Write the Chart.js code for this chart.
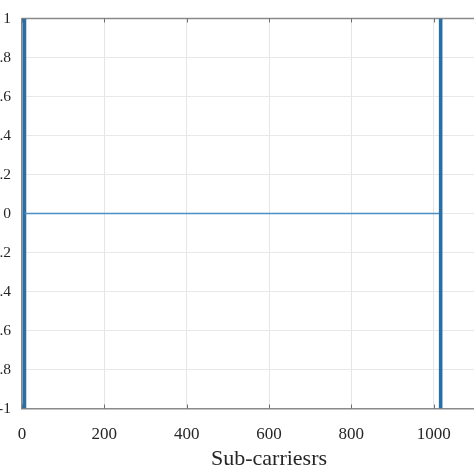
<!DOCTYPE html>
<html>
<head>
<meta charset="utf-8">
<script src="https://cdn.jsdelivr.net/npm/chart.js@4/dist/chart.umd.min.js"></script>
<style>
  html, body { margin: 0; padding: 0; background: #ffffff; overflow: hidden; width: 474px; height: 474px; }
  #wrap { position: absolute; left: -40px; top: 0; width: 580px; height: 474px; }
</style>
</head>
<body>
<div id="wrap"><canvas id="c" width="580" height="474"></canvas></div>
<script>
// Signal trace (sub-carrier index, amplitude)
const subcarrierIdx = [6, 6, 6, 1017, 1017, 1017];
const amplitude     = [-1, 1, 0, 0, 1, -1];
// Axis ticks
const xTickValues = [0, 200, 400, 600, 800, 1000, 1200];
const xTickLabels = ['0', '200', '400', '600', '800', '1000', '1200'];
const yTickValues = [1, 0.8, 0.6, 0.4, 0.2, 0, -0.2, -0.4, -0.6, -0.8, -1];
const yTickLabels = ['1', '0.8', '0.6', '0.4', '0.2', '0', '-0.2', '-0.4', '-0.6', '-0.8', '-1'];
const xTitle = 'Sub-carriesrs';

const points = subcarrierIdx.map((x, i) => ({ x: x, y: amplitude[i] }));

const frame = {
  id: 'frame',
  beforeDatasetsDraw(chart) {
    const { ctx, chartArea: a, scales } = chart;
    ctx.save();
    ctx.strokeStyle = '#8a8a8a';
    ctx.lineWidth = 1.6;
    ctx.beginPath();
    ctx.moveTo(a.left, a.top);
    ctx.lineTo(a.right, a.top);
    ctx.stroke();
    ctx.lineWidth = 1;
    ctx.strokeStyle = '#6e6e6e';
    xTickValues.forEach(v => {
      const px = Math.round(scales.x.getPixelForValue(v)) + 0.5;
      ctx.beginPath();
      ctx.moveTo(px, a.top);
      ctx.lineTo(px, a.top + 4);
      ctx.moveTo(px, a.bottom);
      ctx.lineTo(px, a.bottom - 4);
      ctx.stroke();
    });
    ctx.restore();
  }
};

const pickLabel = (vals, labs, v) => {
  const i = vals.findIndex(t => Math.abs(t - v) < 1e-9);
  return i >= 0 ? labs[i] : '';
};

new Chart(document.getElementById('c'), {
  type: 'line',
  data: {
    datasets: [{
      data: points,
      borderColor: '#2a6ea8',
      backgroundColor: '#2a6ea8',
      borderWidth: 1.3,
      pointRadius: 0,
      tension: 0,
      fill: false,
      segment: {
        borderWidth: ctx => (ctx.p0.parsed.x === ctx.p1.parsed.x ? 3.6 : 1.3),
        borderColor: ctx => (ctx.p0.parsed.x === ctx.p1.parsed.x ? '#2a6ea8' : '#4a8fc6')
      }
    }]
  },
  options: {
    responsive: false,
    devicePixelRatio: 1,
    animation: false,
    layout: { padding: { top: 18.5, right: 24, left: 0, bottom: 0 } },
    plugins: { legend: { display: false }, tooltip: { enabled: false } },
    scales: {
      x: {
        type: 'linear',
        min: 0,
        max: 1200,
        afterBuildTicks: s => { s.ticks = xTickValues.map(v => ({ value: v })); },
        afterFit: s => { s.height = 65.5; s.paddingLeft = 0; s.paddingRight = 0; },
        grid: { color: '#e6e6e6', lineWidth: 1, drawTicks: false },
        border: { display: true, color: '#8a8a8a', width: 1.6 },
        ticks: {
          padding: 16,
          maxRotation: 0,
          autoSkip: false,
          color: '#262626',
          font: { family: '"Liberation Serif", serif', size: 17 },
          callback: (v) => pickLabel(xTickValues, xTickLabels, v)
        },
        title: {
          display: true,
          text: xTitle,
          color: '#262626',
          padding: { top: 0, bottom: 2 },
          font: { family: '"Liberation Serif", serif', size: 22 }
        }
      },
      y: {
        type: 'linear',
        min: -1,
        max: 1,
        afterBuildTicks: s => { s.ticks = yTickValues.map(v => ({ value: v })); },
        afterFit: s => { s.width = 62; s.paddingTop = 0; s.paddingBottom = 0; },
        grid: { color: '#e8e8e8', lineWidth: 1, drawTicks: false },
        border: { display: true, color: '#8a8a8a', width: 1.6 },
        ticks: {
          padding: 11,
          autoSkip: false,
          color: '#262626',
          font: { family: '"Liberation Serif", serif', size: 15.5 },
          callback: (v) => pickLabel(yTickValues, yTickLabels, v)
        }
      }
    }
  },
  plugins: [frame]
});
</script>
</body>
</html>
